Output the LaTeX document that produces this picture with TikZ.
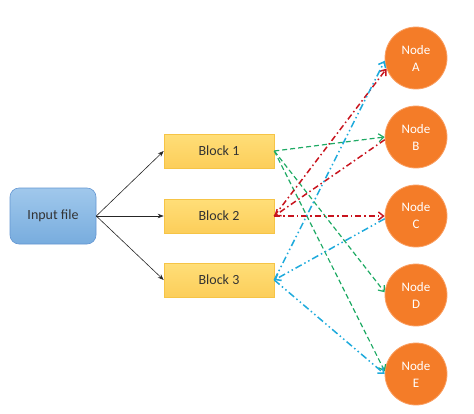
\documentclass[tikz,border=0pt]{standalone}
\usepackage{fontspec}
\setmainfont{Carlito}
\usetikzlibrary{arrows.meta}
\definecolor{redl}{RGB}{200,20,30}
\definecolor{greenl}{RGB}{30,170,100}
\definecolor{bluel}{RGB}{30,170,220}
\definecolor{orangec}{RGB}{244,124,40}
\definecolor{orangeb}{RGB}{250,160,100}
\definecolor{blocktop}{RGB}{255,222,120}
\definecolor{blockbot}{RGB}{252,206,90}
\definecolor{blockb}{RGB}{246,196,70}
\definecolor{inptop}{RGB}{160,200,236}
\definecolor{inpbot}{RGB}{120,172,222}
\definecolor{inpb}{RGB}{100,150,210}
\tikzset{
  blockbox/.style={rectangle, minimum width=110pt, minimum height=34pt, top color=blocktop, bottom color=blockbot, draw=blockb, line width=0.6pt, font=\fontsize{14}{16}\selectfont, text=black!80},
  inputbox/.style={rectangle, rounded corners=9pt, minimum width=86pt, minimum height=56pt, top color=inptop, bottom color=inpbot, draw=inpb, line width=0.6pt, font=\fontsize{14}{16}\selectfont, text=black!80},
  nodecirc/.style={circle, minimum size=62pt, inner sep=0pt, fill=orangec, draw=orangeb, line width=0.8pt, text=white, align=center, font=\fontsize{13}{17}\selectfont},
  blackarrow/.style={-{Stealth[length=6pt,width=4.5pt]}, line width=0.6pt, black!85},
  redline/.style={redl, line width=1.5pt, dash pattern=on 6pt off 3pt on 1.5pt off 3pt, -{Straight Barb[length=5pt,width=8pt]}},
  greenline/.style={greenl, line width=1.2pt, dash pattern=on 5pt off 3pt, -{Straight Barb[length=5pt,width=8pt]}},
  blueline/.style={bluel, line width=1.5pt, dash pattern=on 7pt off 3pt on 1.5pt off 3pt on 1.5pt off 3pt, -{Straight Barb[length=5pt,width=8pt]}},
}
\begin{document}
\begin{tikzpicture}[x=1pt,y=-1pt]
\useasboundingbox (0,0) rectangle (474,413);
\node[inputbox] (in) at (53,216) {Input file};
\node[blockbox] (b1) at (219,151) {Block 1};
\node[blockbox] (b2) at (219,216) {Block 2};
\node[blockbox] (b3) at (219,280) {Block 3};
\node[nodecirc] (A) at (416,58) {Node\\A};
\node[nodecirc] (B) at (416,137) {Node\\B};
\node[nodecirc] (C) at (416,216) {Node\\C};
\node[nodecirc] (D) at (416,295) {Node\\D};
\node[nodecirc] (E) at (416,374) {Node\\E};
\draw[blackarrow] (in.east) -- (b1.west);
\draw[blackarrow] (in.east) -- (b2.west);
\draw[blackarrow] (in.east) -- (b3.west);
% green
\draw[greenline] (b1.east) -- (B.west);
\draw[greenline] (b1.east) -- (D.175);
\draw[greenline] (b1.east) -- (E.175);
% red
\draw[redline] (b2.east) -- (A.200);
\draw[redline] (B.185) -- (b2.east);
\draw[redline] (b2.east) -- (C.west);
% blue
\draw[blueline] (b3.east) -- (A.185);
\draw[blueline] (C.185) -- (b3.east);
\draw[blueline] (b3.east) -- (E.180);
\end{tikzpicture}
\end{document}
